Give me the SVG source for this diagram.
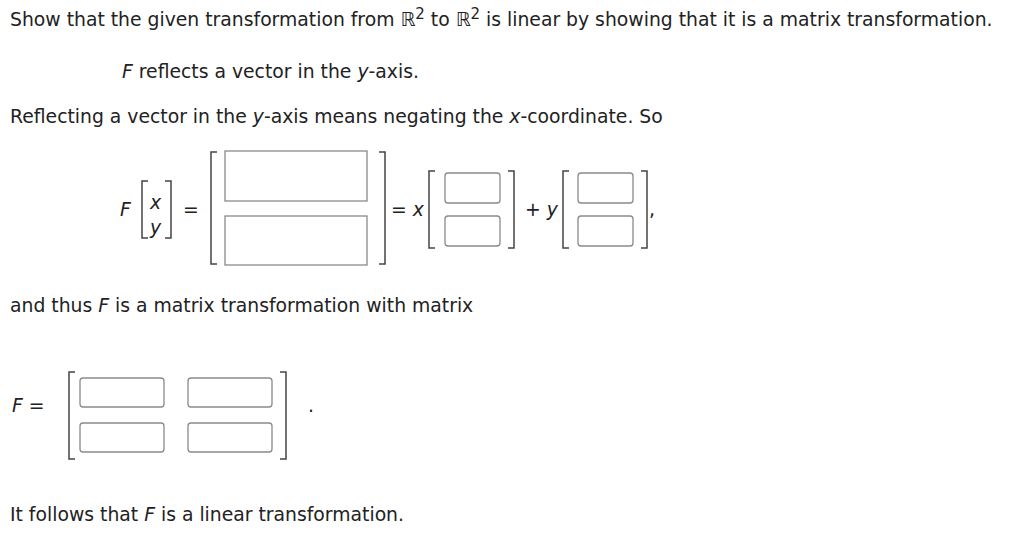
<svg xmlns="http://www.w3.org/2000/svg" width="1024" height="540" viewBox="0 0 1024 540">
<style>
text{font-family:"DejaVu Sans",Verdana,sans-serif;font-size:18.8px;fill:#222}
.i{font-style:italic}
.b{fill:#fff;stroke:#8a8a8a;stroke-width:1.3}
.br{fill:none;stroke:#444;stroke-width:1.5}
</style>
<rect width="1024" height="540" fill="#fff"/>
<text x="10" y="26">Show that the given transformation from ℝ<tspan dy="-7" font-size="15">2</tspan><tspan dy="7"> to ℝ</tspan><tspan dy="-7" font-size="15">2</tspan><tspan dy="7"> is linear by showing that it is a matrix transformation.</tspan></text>
<text x="122" y="78"><tspan class="i">F</tspan> reflects a vector in the <tspan class="i">y</tspan>-axis.</text>
<text x="10" y="123">Reflecting a vector in the <tspan class="i">y</tspan>-axis means negating the <tspan class="i">x</tspan>-coordinate. So</text>
<text x="120" y="216" class="i">F</text>
<path class="br" d="M148,181H142V238H148M165,181H171V238H165"/>
<text x="150" y="209" class="i" font-size="17">x</text>
<text x="150" y="234" class="i" font-size="17">y</text>
<text x="183" y="216">=</text>
<path class="br" d="M217,152H211V264H217M379,152H385V264H379"/>
<rect class="b" x="225" y="151" width="142" height="50"/>
<rect class="b" x="225" y="216" width="142" height="49"/>
<text x="391" y="216">= <tspan class="i">x</tspan></text>
<path class="br" d="M435,171H429V248H435M508,171H514V248H508"/>
<rect class="b" x="445" y="173" width="55" height="30" rx="3"/>
<rect class="b" x="445" y="216" width="55" height="30" rx="3"/>
<text x="525" y="216">+ <tspan class="i">y</tspan></text>
<path class="br" d="M569,171H563V248H569M641,171H647V248H641"/>
<rect class="b" x="578" y="173" width="55" height="30" rx="3"/>
<rect class="b" x="578" y="216" width="55" height="30" rx="3"/>
<text x="649" y="216">,</text>
<text x="10" y="312">and thus <tspan class="i">F</tspan> is a matrix transformation with matrix</text>
<text x="12" y="412"><tspan class="i">F</tspan> =</text>
<path class="br" d="M75,372H69V459H75M280,372H286V459H280"/>
<rect class="b" x="80" y="378" width="84" height="29" rx="3"/>
<rect class="b" x="188" y="378" width="84" height="29" rx="3"/>
<rect class="b" x="80" y="423" width="84" height="29" rx="3"/>
<rect class="b" x="188" y="423" width="84" height="29" rx="3"/>
<text x="308" y="412">.</text>
<text x="10" y="521">It follows that <tspan class="i">F</tspan> is a linear transformation.</text>
</svg>
